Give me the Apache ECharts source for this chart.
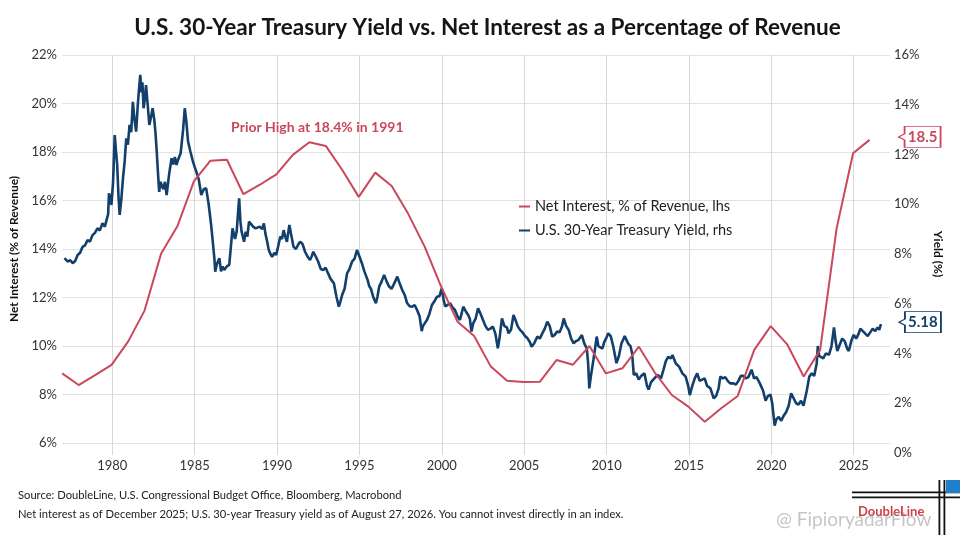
<!DOCTYPE html>
<html>
<head>
<meta charset="utf-8">
<script src="https://cdn.jsdelivr.net/npm/echarts@6/dist/echarts.min.js"></script>
<style>
html,body{margin:0;padding:0;background:#fff;}
#chart{width:975px;height:548px;}
</style>
</head>
<body>
<div id="chart"></div>
<script>
// ---- Data ----
const titleText = 'U.S. 30-Year Treasury Yield vs. Net Interest as a Percentage of Revenue';
const xTickYears = [1980, 1985, 1990, 1995, 2000, 2005, 2010, 2015, 2020, 2025];

// Net interest, % of revenue (annual, plotted at December of each year)
const netInterestYears = [1976,1977,1978,1979,1980,1981,1982,1983,1984,1985,1986,1987,1988,1989,1990,
  1991,1992,1993,1994,1995,1996,1997,1998,1999,2000,2001,2002,2003,2004,2005,2006,2007,2008,2009,2010,
  2011,2012,2013,2014,2015,2016,2017,2018,2019,2020,2021,2022,2023,2024,2025];
const netInterestPct = [8.87,8.39,8.8,9.22,10.18,11.46,13.8,14.95,16.8,17.64,17.68,16.26,16.65,17.08,17.88,
  18.4,18.25,17.26,16.15,17.15,16.6,15.45,14.1,12.45,11.0,10.41,9.17,8.57,8.52,8.53,9.42,9.23,10.0,8.87,9.08,
  9.97,8.87,7.98,7.5,6.88,7.43,7.94,9.84,10.82,10.07,8.74,9.84,14.85,17.95,18.5];
const priorHighYear = 1991;

// U.S. 30-year Treasury yield (%), decimal-year dates
const yieldDates = [1977.1,1977.3,1977.45,1977.6,1977.75,1977.9,1978.05,1978.2,1978.35,1978.5,1978.65,1978.8,1978.95,
  1979.1,1979.25,1979.4,1979.55,1979.65,1979.75,1979.8,1979.9,1979.95,1980.05,1980.15,1980.22,1980.3,1980.38,1980.45,
  1980.55,1980.65,1980.75,1980.85,1980.95,1981.05,1981.15,1981.25,1981.35,1981.45,1981.55,1981.62,1981.7,1981.77,
  1981.83,1981.9,1981.97,1982.05,1982.15,1982.25,1982.35,1982.45,1982.55,1982.62,1982.7,1982.78,1982.85,1982.92,
  1983.0,1983.1,1983.2,1983.3,1983.45,1983.6,1983.7,1983.8,1983.9,1984.0,1984.15,1984.3,1984.4,1984.5,1984.6,
  1984.75,1984.9,1985.0,1985.1,1985.25,1985.4,1985.55,1985.7,1985.85,1986.0,1986.1,1986.2,1986.25,1986.35,1986.5,
  1986.6,1986.7,1986.8,1986.95,1987.1,1987.2,1987.3,1987.45,1987.55,1987.7,1987.78,1987.85,1988.0,1988.1,1988.2,
  1988.3,1988.4,1988.55,1988.7,1988.8,1988.95,1989.1,1989.2,1989.3,1989.4,1989.5,1989.6,1989.7,1989.85,1989.95,
  1990.1,1990.2,1990.3,1990.4,1990.5,1990.6,1990.75,1990.85,1991.0,1991.15,1991.3,1991.4,1991.55,1991.7,1991.85,
  1992.0,1992.1,1992.2,1992.35,1992.5,1992.65,1992.8,1992.95,1993.1,1993.25,1993.45,1993.6,1993.75,1993.85,1993.95,
  1994.1,1994.25,1994.4,1994.55,1994.7,1994.85,1995.0,1995.15,1995.3,1995.5,1995.6,1995.7,1995.85,1996.0,1996.1,
  1996.2,1996.35,1996.5,1996.65,1996.8,1996.95,1997.1,1997.3,1997.45,1997.6,1997.75,1997.9,1998.05,1998.2,1998.35,
  1998.5,1998.65,1998.78,1998.85,1998.95,1999.1,1999.25,1999.4,1999.55,1999.7,1999.85,2000.0,2000.1,2000.2,2000.35,
  2000.5,2000.65,2000.8,2000.95,2001.1,2001.2,2001.3,2001.45,2001.6,2001.7,2001.8,2001.9,2002.05,2002.2,2002.35,
  2002.5,2002.65,2002.8,2002.95,2003.1,2003.25,2003.4,2003.5,2003.65,2003.8,2003.95,2004.05,2004.2,2004.35,2004.5,
  2004.6,2004.75,2004.9,2005.05,2005.2,2005.35,2005.45,2005.6,2005.8,2005.95,2006.1,2006.25,2006.4,2006.55,2006.7,
  2006.85,2007.0,2007.15,2007.3,2007.4,2007.55,2007.7,2007.85,2008.0,2008.15,2008.3,2008.5,2008.65,2008.8,2008.88,
  2008.95,2009.05,2009.2,2009.3,2009.4,2009.5,2009.6,2009.75,2009.85,2010.0,2010.1,2010.25,2010.4,2010.6,2010.75,
  2010.9,2011.0,2011.1,2011.3,2011.45,2011.55,2011.65,2011.8,2011.95,2012.1,2012.3,2012.45,2012.55,2012.7,2012.9,
  2013.1,2013.3,2013.45,2013.6,2013.75,2013.9,2014.0,2014.2,2014.4,2014.6,2014.8,2014.95,2015.05,2015.2,2015.35,
  2015.5,2015.65,2015.8,2015.95,2016.1,2016.3,2016.5,2016.65,2016.8,2016.9,2017.05,2017.2,2017.35,2017.5,2017.7,
  2017.85,2018.0,2018.15,2018.3,2018.45,2018.6,2018.8,2018.95,2019.1,2019.3,2019.5,2019.65,2019.8,2019.95,2020.05,
  2020.15,2020.2,2020.3,2020.45,2020.6,2020.75,2020.9,2021.05,2021.2,2021.35,2021.5,2021.65,2021.8,2021.95,2022.05,
  2022.15,2022.3,2022.45,2022.6,2022.75,2022.82,2022.9,2023.0,2023.15,2023.3,2023.5,2023.65,2023.8,2023.9,2024.0,
  2024.15,2024.3,2024.45,2024.6,2024.7,2024.85,2025.0,2025.15,2025.3,2025.4,2025.55,2025.7,2025.85,2026.0,2026.15,
  2026.3,2026.45,2026.55,2026.65];
const yieldPct = [7.83,7.69,7.75,7.63,7.72,7.96,8.05,8.29,8.35,8.56,8.5,8.76,8.85,
  9.03,8.95,9.23,9.1,9.03,9.6,10.44,10.2,9.97,10.9,12.78,12.2,11.58,10.3,9.57,
  10.2,11.04,11.7,12.65,12.4,13.19,12.9,14.12,13.4,12.92,14.0,14.6,15.2,14.5,
  14.9,13.86,14.2,14.79,14.0,13.19,13.5,13.86,13.4,12.9,12.11,11.2,10.5,10.9,
  10.77,10.6,10.9,10.37,11.2,11.85,11.6,11.9,11.58,11.8,12.05,13.0,13.86,13.3,12.52,
  12.1,11.71,11.5,11.31,11.0,10.37,10.6,10.64,10.0,9.17,8.5,7.8,7.29,7.6,7.83,
  7.3,7.5,7.36,7.5,7.56,8.3,9.03,8.6,8.9,10.24,9.3,8.9,8.49,8.9,8.7,
  9.3,9.23,9.1,9.03,8.96,9.1,9.0,9.23,8.8,8.5,8.16,8.0,7.89,8.05,7.96,
  8.4,8.7,8.6,8.96,8.7,8.49,9.17,8.8,8.29,8.2,8.4,8.49,8.4,8.09,7.9,
  7.76,7.9,8.09,7.9,7.69,7.4,7.36,7.45,7.22,7.0,6.82,6.3,5.88,6.1,6.35,
  6.6,7.22,7.4,7.69,7.8,8.16,7.9,7.63,7.3,6.95,6.7,6.6,6.25,6.02,6.3,
  6.69,6.9,7.16,6.9,6.69,6.6,6.8,7.09,6.8,6.55,6.35,6.02,5.9,5.88,5.95,
  5.75,5.5,4.9,5.1,5.1,5.35,5.6,5.95,6.1,6.28,6.3,6.62,6.2,5.9,5.95,
  6.02,5.85,5.75,5.5,5.35,5.6,5.88,5.7,5.55,5.4,4.88,5.2,5.4,5.82,5.6,
  5.35,5.1,4.95,5.0,5.08,4.8,4.21,4.6,5.41,5.1,5.05,4.81,4.95,5.55,5.3,
  5.1,4.95,4.85,4.7,4.61,4.45,4.27,4.4,4.68,4.6,4.81,5.0,5.28,5.1,4.68,
  4.75,4.88,4.85,5.1,5.41,5.1,4.95,4.6,4.41,4.5,4.55,4.74,4.4,4.21,3.6,
  2.6,3.1,3.74,4.2,4.68,4.3,4.27,4.2,4.45,4.65,4.81,4.7,4.3,3.61,3.9,
  4.4,4.54,4.7,4.41,4.3,4.0,3.14,3.2,2.95,3.1,3.2,2.7,2.55,2.85,3.0,
  3.14,3.0,3.34,3.7,3.87,3.8,3.94,3.6,3.47,3.2,3.07,2.7,2.33,2.7,3.0,
  3.2,2.9,2.95,3.0,2.7,2.6,2.2,2.3,2.6,3.07,3.0,3.05,2.9,2.8,2.8,
  2.75,2.9,3.1,3.1,3.0,3.05,3.35,3.0,3.05,2.8,2.5,2.1,2.3,2.35,2.0,
  1.4,1.1,1.35,1.45,1.3,1.5,1.65,1.9,2.4,2.2,2.0,1.95,2.1,1.9,2.2,
  2.5,3.07,3.2,3.1,3.6,4.3,3.9,3.9,3.8,4.0,3.95,4.3,5.05,4.5,4.1,
  4.35,4.6,4.5,4.2,4.1,4.5,4.75,4.6,4.8,5.0,4.9,4.8,4.7,4.85,5.0,
  4.9,5.05,4.95,5.18];

const legendNames = ['Net Interest, % of Revenue, lhs', 'U.S. 30-Year Treasury Yield, rhs'];
const sourceLines = [
  'Source: DoubleLine, U.S. Congressional Budget Office, Bloomberg, Macrobond',
  'Net interest as of December 2025; U.S. 30-year Treasury yield as of August 27, 2026. You cannot invest directly in an index.'
];

// ---- Build ----
const RED = '#c9485b';
const BLUE = '#123f6b';
const GRID_COLOR = '#d8d8d8';
const FONT = 'Lato, "Open Sans", sans-serif';
const X_MIN = 1976.95, X_MAX = 2027.2;
const DEC = 0.96; // December position within the year

const redData = netInterestYears.map((y, i) => [y + DEC, netInterestPct[i]]);
const blueData = yieldDates.map((d, i) => [d, yieldPct[i]]);
const lastRed = redData[redData.length - 1];
const lastBlue = blueData[blueData.length - 1];
const priorIdx = netInterestYears.indexOf(priorHighYear);
const priorPoint = redData[priorIdx];

const calloutPath = 'path://M6,0L42,0L42,21L6,21L6,13.5L0,10.5L6,7.5Z';

const chart = echarts.init(document.getElementById('chart'), null, {renderer: 'canvas'});

const xAxisCommon = {
  type: 'value', min: X_MIN, max: X_MAX, splitNumber: 10,
  axisLine: {show: false}
};

chart.setOption({
  animation: false,
  backgroundColor: '#ffffff',
  textStyle: {fontFamily: FONT},
  title: {
    text: titleText, left: 'center', top: 11,
    textStyle: {fontFamily: FONT, fontSize: 22.5, fontWeight: 'bold', color: '#151515'}
  },
  legend: {
    data: [
      {name: legendNames[0], icon: 'rect', itemStyle: {color: RED, borderWidth: 0}},
      {name: legendNames[1], icon: 'rect', itemStyle: {color: BLUE, borderWidth: 0}}
    ],
    orient: 'vertical', left: 514, top: 194, z: 10,
    itemWidth: 11, itemHeight: 2, itemGap: 9,
    lineStyle: {width: 0, opacity: 0},
    textStyle: {fontFamily: FONT, fontSize: 14.5, color: '#222', lineHeight: 15}
  },
  grid: [
    {left: 62, right: 85, top: 55, bottom: 105, containLabel: false},
    {left: 62, right: 85, top: 55, bottom: 95, containLabel: false}
  ],
  xAxis: [
    Object.assign({}, xAxisCommon, {
      gridIndex: 0,
      splitLine: {show: false},
      axisTick: {show: true, length: 12, customValues: xTickYears, lineStyle: {color: GRID_COLOR}},
      axisLabel: {
        customValues: xTickYears, margin: 16,
        fontFamily: FONT, fontSize: 13, color: '#333', formatter: v => String(Math.round(v))
      }
    }),
    Object.assign({}, xAxisCommon, {
      gridIndex: 1, show: false, splitLine: {show: false}
    })
  ],
  yAxis: [
    {
      type: 'value', gridIndex: 0, position: 'left', min: 6, max: 22, interval: 2,
      name: 'Net Interest (% of Revenue)', nameLocation: 'middle', nameGap: 31,
      nameTextStyle: {fontFamily: FONT, fontSize: 12, fontWeight: 'bold', color: '#111'},
      axisLine: {show: false}, axisTick: {show: false},
      axisLabel: {formatter: '{value}%', margin: 5, fontFamily: FONT, fontSize: 13, color: '#333'},
      splitLine: {show: true, lineStyle: {color: '#e2e2e2', width: 1}}
    },
    {
      type: 'value', gridIndex: 1, position: 'right', min: 0, max: 16, interval: 2,
      name: 'Yield (%)', nameLocation: 'middle', nameGap: 42, nameRotate: -90,
      nameTextStyle: {fontFamily: FONT, fontSize: 12, fontWeight: 'bold', color: '#111'},
      axisLine: {show: false}, axisTick: {show: false},
      axisLabel: {formatter: '{value}%', margin: 4, fontFamily: FONT, fontSize: 13, color: '#333'},
      splitLine: {show: false}
    }
  ],
  series: [
    {
      // vertical year gridlines
      name: 'gridlines', type: 'line', xAxisIndex: 0, yAxisIndex: 0, data: [], z: 0, silent: true,
      markLine: {
        z: 0, silent: true, symbol: 'none', label: {show: false}, animation: false,
        lineStyle: {color: GRID_COLOR, width: 1, type: 'solid'},
        emphasis: {disabled: true},
        data: xTickYears.map(y => ({xAxis: y}))
      }
    },
    {
      name: legendNames[1], type: 'line', xAxisIndex: 1, yAxisIndex: 1,
      data: blueData, showSymbol: false, symbol: 'none', clip: false, z: 2,
      lineStyle: {color: BLUE, width: 2.6}, itemStyle: {color: BLUE},
      markPoint: {
        symbol: calloutPath, symbolSize: [42, 21], symbolOffset: [39, -2],
        itemStyle: {color: '#fff', borderColor: BLUE, borderWidth: 1.3},
        label: {show: true, position: 'inside', offset: [3, 0], color: BLUE, fontFamily: FONT,
          fontSize: 15, fontWeight: 'bold', formatter: p => p.value.toFixed(2)},
        data: [{coord: lastBlue, value: lastBlue[1]}]
      }
    },
    {
      name: legendNames[0], type: 'line', xAxisIndex: 0, yAxisIndex: 0,
      data: redData, showSymbol: false, symbol: 'none', clip: false, z: 3,
      lineStyle: {color: RED, width: 2}, itemStyle: {color: RED},
      markPoint: {
        data: [
          {
            coord: lastRed, value: lastRed[1],
            symbol: calloutPath, symbolSize: [42, 21], symbolOffset: [50, -3],
            itemStyle: {color: '#fff', borderColor: RED, borderWidth: 1.3},
            label: {show: true, position: 'inside', offset: [3, 0], color: RED, fontFamily: FONT,
              fontSize: 15, fontWeight: 'bold', formatter: p => p.value.toFixed(1)}
          },
          {
            coord: priorPoint, value: priorPoint[1],
            symbol: 'circle', symbolSize: 1, itemStyle: {color: 'rgba(0,0,0,0)'},
            label: {show: true, position: 'inside', offset: [8, -15], color: RED, fontFamily: FONT,
              fontSize: 14, fontWeight: 'bold',
              formatter: p => 'Prior High at ' + p.value.toFixed(1) + '% in ' + priorHighYear}
          }
        ]
      }
    }
  ],
  graphic: [
    {type: 'text', left: 18, top: 490, style: {text: sourceLines[0], font: '11.2px ' + FONT, fill: '#222'}},
    {type: 'text', left: 18, top: 509, style: {text: sourceLines[1], font: '11.2px ' + FONT, fill: '#222'}},
    // DoubleLine logo
    {type: 'rect', shape: {x: 852, y: 491.5, width: 108, height: 1.8}, style: {fill: '#111'}},
    {type: 'rect', shape: {x: 852, y: 496.5, width: 108, height: 1.8}, style: {fill: '#111'}},
    {type: 'rect', shape: {x: 938.5, y: 480, width: 1.8, height: 55}, style: {fill: '#111'}},
    {type: 'rect', shape: {x: 943.5, y: 480, width: 1.8, height: 55}, style: {fill: '#111'}},
    {type: 'rect', shape: {x: 946, y: 480, width: 14, height: 13}, style: {fill: '#1f7fc8'}},
    {type: 'text', left: 858, top: 505, style: {text: 'DoubleLine', font: 'bold 13px ' + FONT, fill: '#d0404a'}},
    {type: 'text', left: 776, top: 510, style: {text: '@ FipioryadarFlow', font: '19px ' + FONT, fill: 'rgba(150,150,150,0.55)'}}
  ]
});
</script>
</body>
</html>
